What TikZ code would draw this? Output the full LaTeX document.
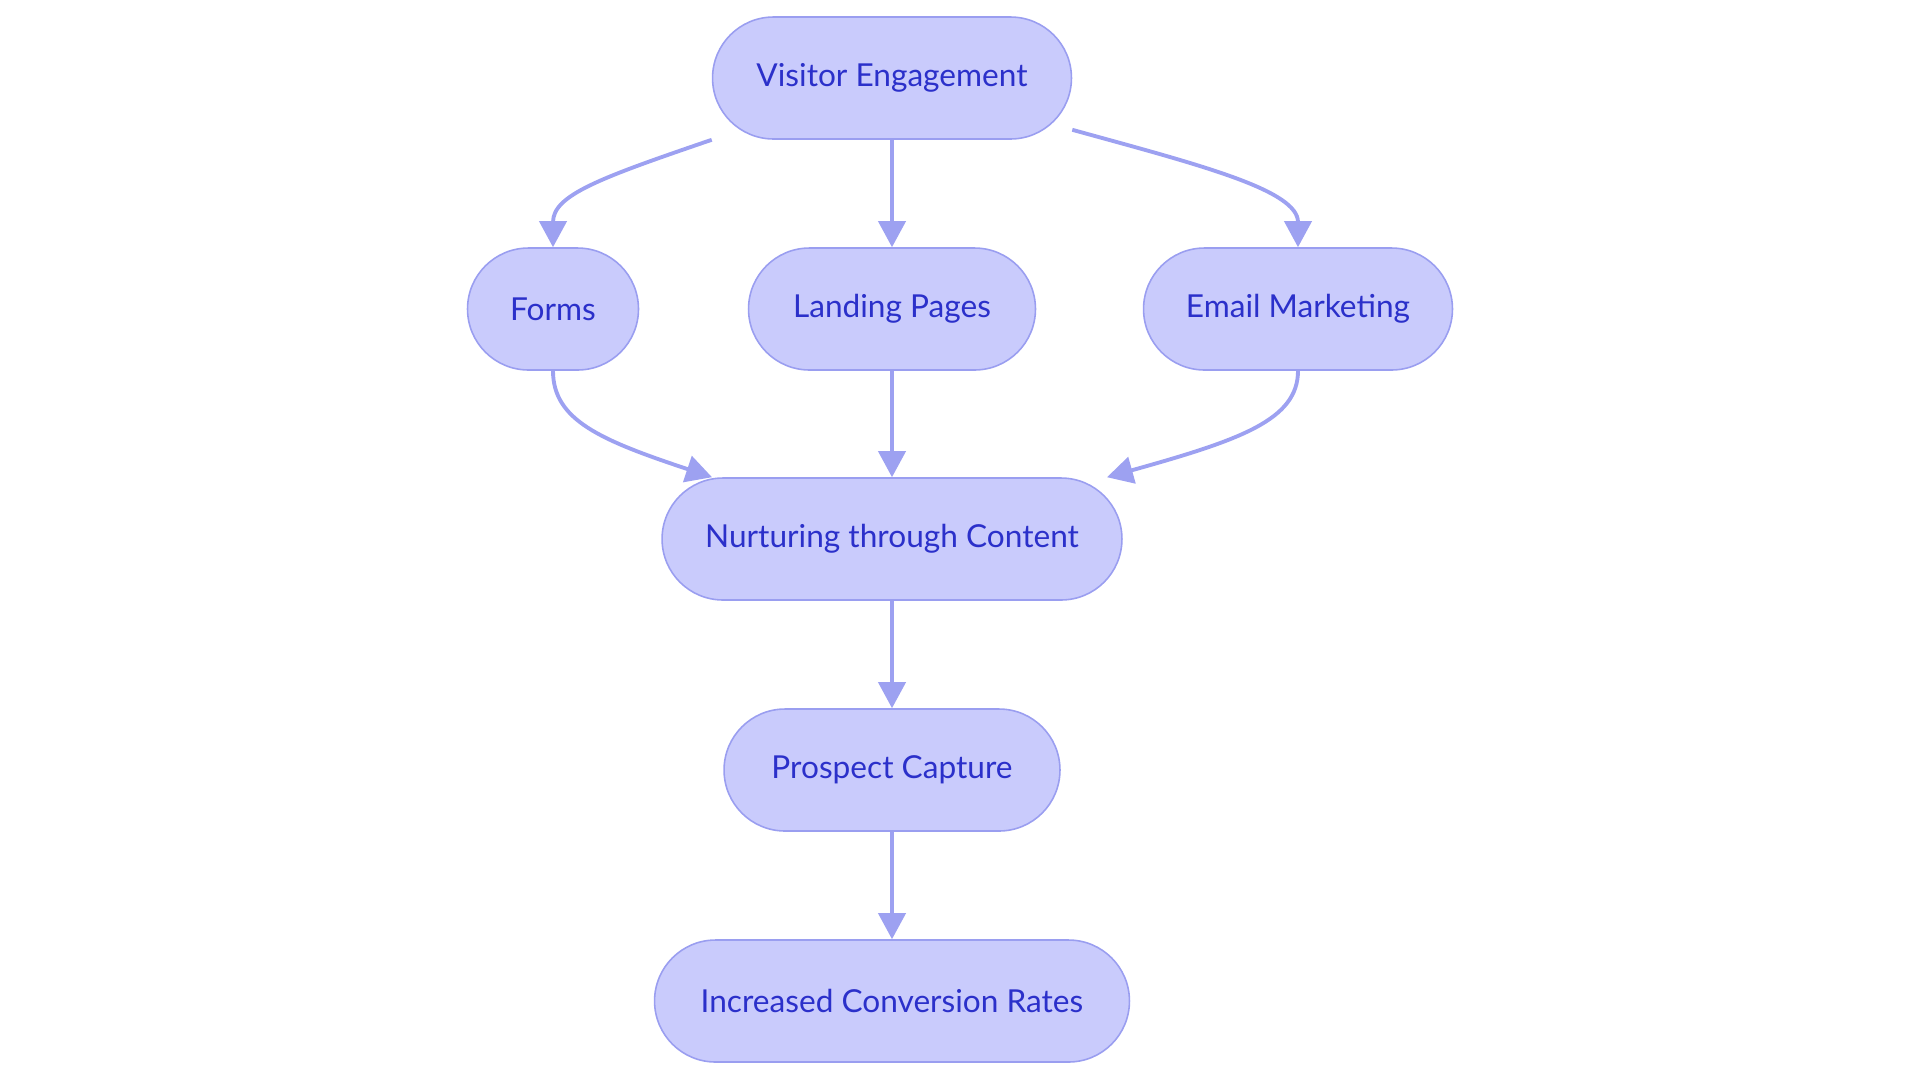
\documentclass[tikz,border=0pt]{standalone}
\usepackage{fontspec}
\setmainfont{Lato}
\usetikzlibrary{arrows.meta}
\definecolor{boxfill}{HTML}{C9CBFC}
\definecolor{boxline}{HTML}{9A9EF0}
\definecolor{boxtext}{HTML}{2B30CA}
\definecolor{edgecol}{HTML}{9DA1F1}

\begin{document}
\begin{tikzpicture}[x=0.02cm, y=-0.02cm, main/.style={draw=boxline, fill=boxfill, text=boxtext, rounded corners=1.22cm, minimum height=2.44cm, inner sep=0pt, line width=0.9pt, font=\fontsize{18}{22}\selectfont}, n/.style={-{Triangle[length=0.52cm, width=0.54cm]}, draw=edgecol, line width=2.2pt}]
                \useasboundingbox (0,0) rectangle (1920,1083);
                % nodes
                \node[main, minimum width=7.18cm] (visit) at (892,78) {Visitor Engagement};
                \node[main, minimum width=3.42cm] (forms) at (553,309) {Forms};
                \node[main, minimum width=5.74cm] (landing) at (892,309) {Landing Pages};
                \node[main, minimum width=6.18cm] (email) at (1298,309) {Email Marketing};
                \node[main, minimum width=9.2cm] (nurture) at (892,539) {Nurturing through Content};
                \node[main, minimum width=6.72cm] (prospect) at (892,770) {Prospect Capture};
                \node[main, minimum width=9.5cm] (conv) at (892,1001) {Increased Conversion Rates};
                % edges
                \draw [n] (visit.south west) .. controls (600,178) and (553,195) .. (forms.north);
                \draw [n] (visit) -- (landing);
                \draw [n] ([yshift=0.2cm]visit.south east) .. controls (1200,165) and (1298,190) .. (email.north);
                \draw [n] (forms.south) .. controls (553,420) and (600,440) .. ([xshift=-3.6cm]nurture.north);
                \draw [n] (landing) -- (nurture);
                \draw [n] (email.south) .. controls (1298,420) and (1240,440) .. ([xshift=4.3cm]nurture.north);
                \draw [n] (nurture) -- (prospect);
                \draw [n] (prospect) -- (conv);
            \end{tikzpicture}
\end{document}
